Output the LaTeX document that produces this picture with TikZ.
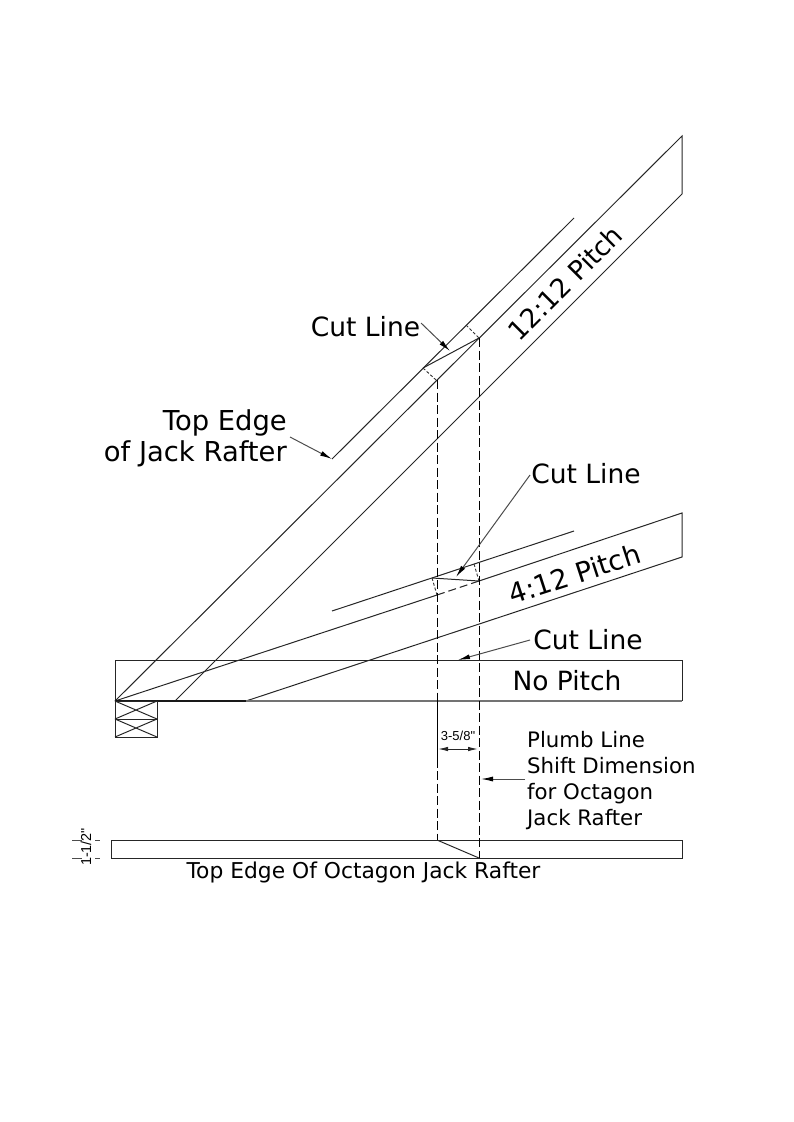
\documentclass[tikz,border=0pt]{standalone}
\usepackage{fontspec}
\setmainfont{DejaVu Sans}
\newfontfamily\dimfont{Liberation Sans}
\usepackage{tikz}
\usetikzlibrary{arrows.meta}
\tikzset{
  edge/.style={draw=black!85,line width=1pt},
  plumb/.style={draw=black,line width=1pt,dash pattern=on 9pt off 3.5pt},
  cutdot/.style={draw=black!80,line width=.9pt,dash pattern=on 3pt off 2pt},
  leader/.style={draw=black!70,line width=1pt,-{Latex[length=12pt,width=5pt,black]}},
  tick/.style={draw=black!70,line width=1pt,dash pattern=on 10pt off 13pt},
  bigtext/.style={inner sep=0pt,font=\fontsize{26.5}{30}\selectfont},
  edgetext/.style={inner sep=0pt,anchor=east,font=\fontsize{27.4}{30}\selectfont},
  midtext/.style={inner sep=0pt,font=\fontsize{21.3}{26}\selectfont,align=left},
}

\begin{document}
\begin{tikzpicture}[x=1pt,y=-1pt]
  \useasboundingbox (0,0) rectangle (793,1122);
  % 12:12 pitch
  \coordinate (heel) at (115,701);
  \draw[edge] (heel) -- (682,136) -- (682,194) -- (175,701);
  \draw[edge] (332,459) -- (574,218);
  \draw[edge] (423,368) -- (479,338);
  \draw[cutdot] (423,368) -- (436,380);
  \draw[cutdot] (466,325) -- (479,338);
  % 4:12 pitch
  \draw[edge] (heel) -- (437,595);
  \draw[edge,dash pattern=on 8pt off 4pt] (437,595) -- (479,581);
  \draw[edge] (479,581) -- (682,513) -- (682,557) -- (246,701);
  \draw[edge] (332,611) -- (574,531);
  \draw[edge] (432,578) -- (479,581);
  \draw[cutdot] (432,578) -- (437,595);
  \draw[cutdot] (474,564) -- (479,581);
  % no pitch and the plate
  \draw[edge] (115,701) -- (115,660) -- (682,660) -- (682,701);
  \draw[draw=black!55,line width=1.5pt] (246,701) -- (682,701);
  \draw[draw=black!90,line width=1.5pt] (heel) -- (246,701);
  \draw[edge] (heel) rectangle (157,737);
  \draw[edge] (115,719) -- (157,719);
  \draw[edge] (heel) -- (157,719) (115,719) -- (157,701);
  \draw[edge] (115,719) -- (157,737) (115,737) -- (157,719);
  % plan view
  \draw[edge] (111,840) rectangle (682,858);
  \draw[edge] (437,840) -- (479,858);
  \draw[plumb] (437,380) -- (437,701);
  \draw[draw=black,line width=1pt] (437,701) -- (437,768);
  \draw[plumb] (437,771) -- (437,840);
  \draw[plumb] (479,338) -- (479,858);
  % dimensions
  \draw[edge,{Latex[length=10pt,width=4.5pt]}-{Latex[length=10pt,width=4.5pt]}] (438,749) -- (478,749);
  \node (shift) at (458,736) [inner sep=0pt,font=\dimfont\fontsize{13}{15}\selectfont] {3-5/8"};
  \draw[tick] (72,840) -- (100,840);
  \draw[tick] (72,858) -- (100,858);
  \node (thick) at (86,847) [rotate=90,inner sep=0pt,font=\dimfont\fontsize{14.4}{16}\selectfont] {1-1/2"};
  % labels
  \node (cuta) at (365.5,327) [bigtext] {Cut Line};
  \node (cutb) at (586,474) [bigtext] {Cut Line};
  \node (cutc) at (588,640) [bigtext] {Cut Line};
  \node (edgea) at (287,423) [edgetext] {Top Edge};
  \node (edgeb) at (287,454) [edgetext] {of Jack Rafter};
  \node (steep) at (565,283) [bigtext,rotate=45] {12:12 Pitch};
  \node (low) at (574.5,574) [edgetext,anchor=center,rotate=18] {4:12 Pitch};
  \node (flat) at (567,681) [bigtext] {No Pitch};
  \node (plumbnote) at (527,781) [midtext,anchor=west] {Plumb Line\\Shift Dimension\\for Octagon\\Jack Rafter};
  \node (plan) at (363.5,872) [midtext,font=\fontsize{21.8}{26}\selectfont] {Top Edge Of Octagon Jack Rafter};
  % leaders
  \coordinate (cutatail) at (421,323);
  \coordinate (cutaend) at (450,351);
  \coordinate (cutbtail) at (530,475);
  \coordinate (cutbend) at (456,577);
  \coordinate (cutctail) at (530,640);
  \coordinate (cutcend) at (458,660);
  \coordinate (edgetail) at (290,437);
  \coordinate (edgeend) at (332,459);
  \coordinate (shifttail) at (525,779);
  \coordinate (shiftend) at (481,779);
  \draw[leader] (cutatail) -- (cutaend);
  \draw[leader] (cutbtail) -- (cutbend);
  \draw[leader] (cutctail) -- (cutcend);
  \draw[leader] (edgetail) -- (edgeend);
  \draw[leader] (shifttail) -- (shiftend);
\end{tikzpicture}
\end{document}
